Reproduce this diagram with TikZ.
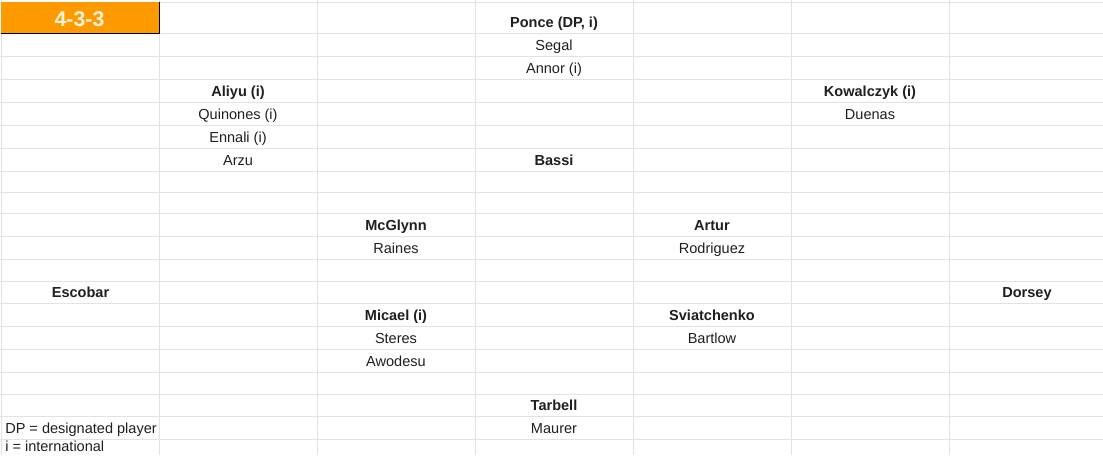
\documentclass[tikz,border=0pt]{standalone}
\usepackage{fontspec}
\setmainfont{Liberation Sans}
\definecolor{gridgray}{HTML}{E2E2E2}
\definecolor{sheetorange}{HTML}{FF9900}
\definecolor{cream}{HTML}{FFF4D9}
\definecolor{ink}{HTML}{1F1F1F}

\begin{document}
\begin{tikzpicture}[%
    x=0.75pt,
    y=-0.75pt,
    starter/.style={%
      anchor=base,
      inner sep=0pt,
      text=ink,
      font=\fontsize{10.9}{13}\selectfont\bfseries},
    backup/.style={%
      anchor=base,
      inner sep=0pt,
      text=ink,
      font=\fontsize{10.9}{13}\selectfont},
    legend/.style={%
      backup,
      anchor=base west},
    formation/.style={%
      anchor=base,
      inner sep=0pt,
      text=cream,
      font=\fontsize{16}{19}\selectfont\bfseries}
    ]
    \useasboundingbox (0,0) rectangle (1103,455);
    \fill[white] (0,0) rectangle (1103,455);
    \foreach \y in {2,33,56,79,102,125,148,171,192,213,236,259,281,303,326,349,372,394,416,439}
      \draw[gridgray,line width=0.75pt] (0,\y) -- (1103,\y);
    \foreach \x in {1,159,317,475,633,791,949}
      \draw[gridgray,line width=0.75pt] (\x,0) -- (\x,455);
    \fill[sheetorange] (1,2) rectangle (159,33);
    \draw[black,line width=0.75pt] (159,2) -- (159,33) -- (1,33);
    \node[formation] (f) at (79.5,26) {4-3-3};

    \node[starter] (ponce) at (554,27) {Ponce (DP, i)};
    \node[backup] (segal) at (554,50) {Segal};
    \node[backup] (annor) at (554,73) {Annor (i)};
    \node[starter] (aliyu) at (238,96) {Aliyu (i)};
    \node[starter] (kowalczyk) at (870,96) {Kowalczyk (i)};
    \node[backup] (quinones) at (238,119) {Quinones (i)};
    \node[backup] (duenas) at (870,119) {Duenas};
    \node[backup] (ennali) at (238,142) {Ennali (i)};
    \node[backup] (arzu) at (238,165) {Arzu};
    \node[starter] (bassi) at (554,165) {Bassi};
    \node[starter] (mcglynn) at (396,230) {McGlynn};
    \node[starter] (artur) at (712,230) {Artur};
    \node[backup] (raines) at (396,253) {Raines};
    \node[backup] (rodriguez) at (712,253) {Rodriguez};
    \node[starter] (escobar) at (80.5,297) {Escobar};
    \node[starter] (dorsey) at (1027,297) {Dorsey};
    \node[starter] (micael) at (396,320) {Micael (i)};
    \node[starter] (sviatchenko) at (712,320) {Sviatchenko};
    \node[backup] (steres) at (396,343) {Steres};
    \node[backup] (bartlow) at (712,343) {Bartlow};
    \node[backup] (awodesu) at (396,366) {Awodesu};
    \node[starter] (tarbell) at (554,410) {Tarbell};
    \node[backup] (maurer) at (554,433) {Maurer};
    \node[legend] (dp) at (5,433) {DP = designated player};
    \node[legend] (intl) at (5,451.5) {i = international};
  \end{tikzpicture}
\end{document}
